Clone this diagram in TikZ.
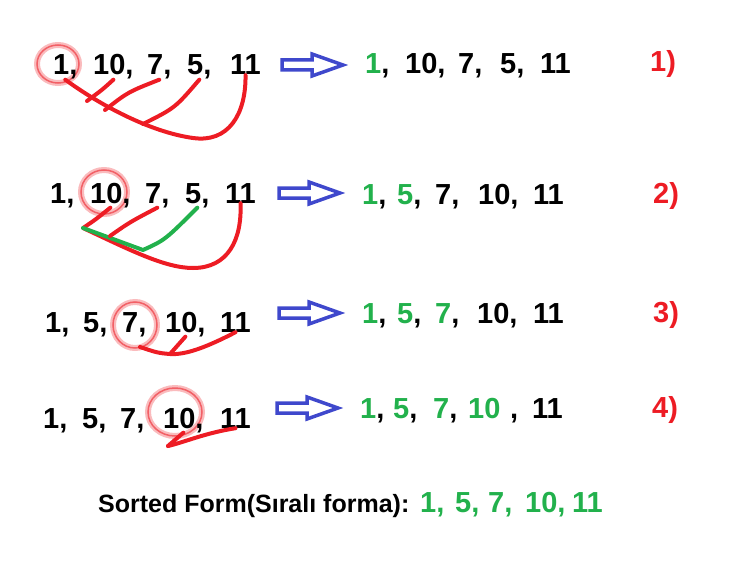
\documentclass[tikz,border=0pt]{standalone}
\usepackage{fontspec}
\setmainfont{Liberation Sans}
\usetikzlibrary{shapes.geometric}
\definecolor{sortgreen}{RGB}{34,177,76}
\definecolor{markred}{RGB}{237,28,36}
\definecolor{arrowblue}{RGB}{63,72,204}
\newcommand{\grn}[1]{\textcolor{sortgreen}{#1}}
\newcommand{\numfont}{\fontsize{29}{32}\selectfont\bfseries}

\begin{document}
\begin{tikzpicture}[x=1pt, y=-1pt,
  num/.style={anchor=base west, inner sep=0pt, font=\numfont},
  steplabel/.style={anchor=base west, inner sep=0pt, font=\numfont, text=markred},
  pickring/.style={ellipse, draw=markred!70, line width=1.5pt, preaction={draw=markred!30, line width=6pt}, inner sep=0pt},
  swapline/.style={draw=markred, line width=4pt, line cap=round, line join=round},
  minline/.style={draw=sortgreen, line width=4pt, line cap=round, line join=round},
  blockarrow/.style={draw=arrowblue, line width=3.5pt, line join=miter}]
\useasboundingbox (0,0) rectangle (738,567);

% rings round the picked item
\node[pickring, minimum width=42pt, minimum height=38pt] (k1) at (58,64) {};
\node[pickring, minimum width=46pt, minimum height=44pt] (k2) at (104,192) {};
\node[pickring, minimum width=44pt, minimum height=46pt] (k3) at (135,325) {};
\node[pickring, minimum width=54pt, minimum height=48pt] (k4) at (175,412) {};

% lists before each step
\foreach \t/\x [count=\i] in {{1,}/53, {10,}/93, {7,}/147, {5,}/187, {11}/230}
  \node[num] (u1-\i) at (\x,75) {\t};
\foreach \t/\x [count=\i] in {{1,}/50, {10,}/90, {7,}/145, {5,}/185, {11}/225}
  \node[num] (u2-\i) at (\x,203) {\t};
\foreach \t/\x [count=\i] in {{1,}/45, {5,}/83, {7,}/122, {10,}/165, {11}/220}
  \node[num] (u3-\i) at (\x,332) {\t};
\foreach \t/\x [count=\i] in {{1,}/43, {5,}/82, {7,}/120, {10,}/163, {11}/220}
  \node[num] (u4-\i) at (\x,428) {\t};

% step 1
\draw[swapline] (u1-1.south) .. controls (100,105) and (150,132) .. (193,138)
  .. controls (228,143) and (246,115) .. (u1-5.south);
\draw[swapline] (u1-2.south) .. controls (102,90) .. (87,101);
\draw[swapline] (u1-3.south) .. controls (128,92) .. (105,110);
\draw[swapline] (u1-4.south) .. controls (175,108) .. (143,124);

% step 2
\coordinate (v2) at (83,228);
\draw[swapline] (u2-2.south) .. controls (95,220) .. (v2)
  .. controls (130,250) and (165,268) .. (193,268)
  .. controls (228,268) and (242,240) .. (u2-5.south);
\draw[minline] (v2) -- (143,250) .. controls (165,240) .. (u2-4.south);
\draw[swapline] (u2-3.south) .. controls (130,222) .. (110,236);

% step 3
\coordinate (v3) at (170,354);
\draw[swapline] (u3-5.south) .. controls (205,348) and (185,355) .. (v3)
  .. controls (158,353) .. (140,347);
\draw[swapline] (u3-4.south) -- (v3);

% step 4
\coordinate (v4) at (168,446);
\draw[swapline] (u4-5.south) .. controls (205,433) and (185,442) .. (v4);
\draw[swapline] (u4-4.south) -- (v4);

% lists after each step
\foreach \t/\x [count=\i] in {{\grn{1},}/365, {10,}/405, {7,}/458, {5,}/500, {11}/540}
  \node[num] (s1-\i) at (\x,74) {\t};
\foreach \t/\x [count=\i] in {{\grn{1},}/362, {\grn{5},}/397, {7,}/435, {10,}/478, {11}/533}
  \node[num] (s2-\i) at (\x,204) {\t};
\foreach \t/\x [count=\i] in {{\grn{1},}/362, {\grn{5},}/397, {\grn{7},}/435, {10,}/477, {11}/533}
  \node[num] (s3-\i) at (\x,323) {\t};
\foreach \t/\x [count=\i] in {{\grn{1},}/360, {\grn{5},}/393, {\grn{7},}/433, {\grn{10}\,\,,}/468, {11}/532}
  \node[num] (s4-\i) at (\x,418) {\t};

% step numbers
\node[steplabel] (n1) at (650,72) {1)};
\node[steplabel] (n2) at (653,203) {2)};
\node[steplabel] (n3) at (653,322) {3)};
\node[steplabel] (n4) at (652,417) {4)};

% hollow arrows
\foreach \y/\x in {65/280, 193/277, 313/277, 408/275}
  \draw[blockarrow] (\x+2,\y-5) -- ++(30,0) -- ++(0,-6) -- (\x+63,\y)
    -- (\x+32,\y+11) -- ++(0,-6) -- (\x+2,\y+5) -- cycle;

% result
\node[anchor=base west, inner sep=0pt, font=\fontsize{25}{30}\selectfont\bfseries] (sorted) at (98,512) {Sorted Form(Sıralı forma):};
\foreach \t/\x [count=\i] in {{1,}/420, {5,}/455, {7,}/488, {10,}/525, {11}/572}
  \node[num, text=sortgreen] (f-\i) at (\x,512) {\t};
\end{tikzpicture}
\end{document}
